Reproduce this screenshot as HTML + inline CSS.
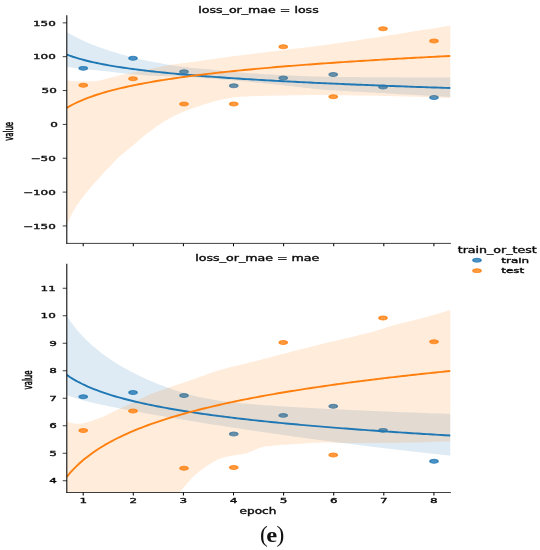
<!DOCTYPE html>
<html><head><meta charset="utf-8"><title>(e)</title>
<style>
html,body{margin:0;padding:0;background:#fff}
body{width:540px;height:550px;overflow:hidden;position:relative}
svg{position:absolute;left:0;top:0;display:block;filter:blur(0.45px)}
svg text{font-family:"DejaVu Sans","Liberation Sans",sans-serif;fill:#0a0a0a;stroke:#0a0a0a;stroke-width:0.34px}
svg text.cap{font-family:"Liberation Serif","DejaVu Serif",serif;fill:#111;stroke:none}
</style></head><body>
<svg width="540" height="550" viewBox="0 0 540 550">
<clipPath id="c1"><rect x="66.8" y="15.2" width="383.7" height="228.2"/></clipPath>
<g clip-path="url(#c1)">
<circle transform="translate(83.25 68.3) scale(2.05 1)" r="1.95" fill="#1f77b4" fill-opacity="0.8" stroke="#1f77b4" stroke-opacity="0.8" stroke-width="0.9"/>
<circle transform="translate(133 58.25) scale(2.05 1)" r="1.95" fill="#1f77b4" fill-opacity="0.8" stroke="#1f77b4" stroke-opacity="0.8" stroke-width="0.9"/>
<circle transform="translate(184 71.75) scale(2.05 1)" r="1.95" fill="#1f77b4" fill-opacity="0.8" stroke="#1f77b4" stroke-opacity="0.8" stroke-width="0.9"/>
<circle transform="translate(233.75 85.75) scale(2.05 1)" r="1.95" fill="#1f77b4" fill-opacity="0.8" stroke="#1f77b4" stroke-opacity="0.8" stroke-width="0.9"/>
<circle transform="translate(283.25 78) scale(2.05 1)" r="1.95" fill="#1f77b4" fill-opacity="0.8" stroke="#1f77b4" stroke-opacity="0.8" stroke-width="0.9"/>
<circle transform="translate(333.25 74.5) scale(2.05 1)" r="1.95" fill="#1f77b4" fill-opacity="0.8" stroke="#1f77b4" stroke-opacity="0.8" stroke-width="0.9"/>
<circle transform="translate(383 87) scale(2.05 1)" r="1.95" fill="#1f77b4" fill-opacity="0.8" stroke="#1f77b4" stroke-opacity="0.8" stroke-width="0.9"/>
<circle transform="translate(434 97.5) scale(2.05 1)" r="1.95" fill="#1f77b4" fill-opacity="0.8" stroke="#1f77b4" stroke-opacity="0.8" stroke-width="0.9"/>
<polygon points="66.8,32.12 69.8,33.83 72.8,35.48 75.8,37.05 78.8,38.54 81.8,39.98 84.8,41.38 87.8,42.72 90.8,43.99 93.8,45.2 96.8,46.33 99.8,47.41 102.8,48.44 105.8,49.44 108.8,50.41 111.8,51.38 114.8,52.32 117.8,53.23 120.8,54.13 123.8,54.99 126.8,55.83 129.8,56.65 132.8,57.45 135.8,58.23 138.8,58.97 141.8,59.67 144.8,60.31 147.8,60.9 150.8,61.44 153.8,61.98 156.8,62.52 159.8,63.08 162.8,63.65 165.8,64.21 168.8,64.76 171.8,65.26 174.8,65.73 177.8,66.16 180.8,66.58 183.8,66.97 186.8,67.34 189.8,67.68 192.8,67.98 195.8,68.25 198.8,68.51 201.8,68.76 204.8,69.02 207.8,69.31 210.8,69.62 213.8,69.96 216.8,70.3 219.8,70.65 222.8,70.98 225.8,71.3 228.8,71.59 231.8,71.85 234.8,72.1 237.8,72.33 240.8,72.55 243.8,72.76 246.8,72.96 249.8,73.16 252.8,73.36 255.8,73.55 258.8,73.75 261.8,73.94 264.8,74.14 267.8,74.32 270.8,74.51 273.8,74.68 276.8,74.84 279.8,74.99 282.8,75.13 285.8,75.28 288.8,75.42 291.8,75.56 294.8,75.69 297.8,75.82 300.8,75.95 303.8,76.07 306.8,76.18 309.8,76.28 312.8,76.38 315.8,76.46 318.8,76.54 321.8,76.6 324.8,76.65 327.8,76.7 330.8,76.75 333.8,76.8 336.8,76.84 339.8,76.88 342.8,76.92 345.8,76.96 348.8,77 351.8,77.03 354.8,77.07 357.8,77.1 360.8,77.13 363.8,77.16 366.8,77.18 369.8,77.21 372.8,77.23 375.8,77.25 378.8,77.27 381.8,77.28 384.8,77.3 387.8,77.31 390.8,77.33 393.8,77.34 396.8,77.36 399.8,77.37 402.8,77.38 405.8,77.39 408.8,77.41 411.8,77.42 414.8,77.43 417.8,77.44 420.8,77.45 423.8,77.46 426.8,77.47 429.8,77.47 432.8,77.48 435.8,77.49 438.8,77.49 441.8,77.5 444.8,77.5 450.5,77.5 450.5,97 444.8,96.69 441.8,96.52 438.8,96.36 435.8,96.19 432.8,96.03 429.8,95.86 426.8,95.69 423.8,95.52 420.8,95.35 417.8,95.18 414.8,95.01 411.8,94.84 408.8,94.67 405.8,94.5 402.8,94.33 399.8,94.16 396.8,93.98 393.8,93.81 390.8,93.64 387.8,93.46 384.8,93.29 381.8,93.12 378.8,92.95 375.8,92.78 372.8,92.61 369.8,92.45 366.8,92.29 363.8,92.13 360.8,91.96 357.8,91.8 354.8,91.63 351.8,91.46 348.8,91.29 345.8,91.12 342.8,90.93 339.8,90.75 336.8,90.56 333.8,90.36 330.8,90.15 327.8,89.94 324.8,89.72 321.8,89.48 318.8,89.23 315.8,88.96 312.8,88.67 309.8,88.36 306.8,88.04 303.8,87.7 300.8,87.36 297.8,87.01 294.8,86.66 291.8,86.31 288.8,85.96 285.8,85.63 282.8,85.3 279.8,84.98 276.8,84.67 273.8,84.35 270.8,84.03 267.8,83.72 264.8,83.4 261.8,83.08 258.8,82.77 255.8,82.45 252.8,82.14 249.8,81.84 246.8,81.54 243.8,81.25 240.8,80.96 237.8,80.68 234.8,80.41 231.8,80.15 228.8,79.9 225.8,79.66 222.8,79.43 219.8,79.21 216.8,79 213.8,78.79 210.8,78.58 207.8,78.38 204.8,78.17 201.8,77.96 198.8,77.75 195.8,77.55 192.8,77.36 189.8,77.19 186.8,77.03 183.8,76.87 180.8,76.72 177.8,76.58 174.8,76.46 171.8,76.35 168.8,76.25 165.8,76.18 162.8,76.1 159.8,76.03 156.8,75.95 153.8,75.85 150.8,75.74 147.8,75.57 144.8,75.34 141.8,75.06 138.8,74.77 135.8,74.47 132.8,74.2 129.8,73.94 126.8,73.67 123.8,73.39 120.8,73.09 117.8,72.74 114.8,72.33 111.8,71.92 108.8,71.56 105.8,71.24 102.8,70.94 99.8,70.64 96.8,70.35 93.8,70.05 90.8,69.75 87.8,69.47 84.8,69.18 81.8,68.88 78.8,68.55 75.8,68.18 72.8,67.75 69.8,67.26 66.8,66.74" fill="#1f77b4" fill-opacity="0.15"/>
<circle transform="translate(83.25 85.25) scale(2.05 1)" r="1.95" fill="#ff7f0e" fill-opacity="0.8" stroke="#ff7f0e" stroke-opacity="0.8" stroke-width="0.9"/>
<circle transform="translate(133 78.75) scale(2.05 1)" r="1.95" fill="#ff7f0e" fill-opacity="0.8" stroke="#ff7f0e" stroke-opacity="0.8" stroke-width="0.9"/>
<circle transform="translate(184 104) scale(2.05 1)" r="1.95" fill="#ff7f0e" fill-opacity="0.8" stroke="#ff7f0e" stroke-opacity="0.8" stroke-width="0.9"/>
<circle transform="translate(233.75 104) scale(2.05 1)" r="1.95" fill="#ff7f0e" fill-opacity="0.8" stroke="#ff7f0e" stroke-opacity="0.8" stroke-width="0.9"/>
<circle transform="translate(283.25 46.75) scale(2.05 1)" r="1.95" fill="#ff7f0e" fill-opacity="0.8" stroke="#ff7f0e" stroke-opacity="0.8" stroke-width="0.9"/>
<circle transform="translate(333.25 96.75) scale(2.05 1)" r="1.95" fill="#ff7f0e" fill-opacity="0.8" stroke="#ff7f0e" stroke-opacity="0.8" stroke-width="0.9"/>
<circle transform="translate(383 28.75) scale(2.05 1)" r="1.95" fill="#ff7f0e" fill-opacity="0.8" stroke="#ff7f0e" stroke-opacity="0.8" stroke-width="0.9"/>
<circle transform="translate(434 41) scale(2.05 1)" r="1.95" fill="#ff7f0e" fill-opacity="0.8" stroke="#ff7f0e" stroke-opacity="0.8" stroke-width="0.9"/>
<polygon points="66.8,80.52 69.8,80.85 72.8,81.14 75.8,81.29 78.8,81.3 81.8,81.3 84.8,81.3 87.8,81.3 90.8,81.3 93.8,81.29 96.8,81.04 99.8,80.48 102.8,79.74 105.8,78.9 108.8,78.09 111.8,77.36 114.8,76.55 117.8,75.74 120.8,75.02 123.8,74.38 126.8,73.78 129.8,73.2 132.8,72.61 135.8,71.99 138.8,71.34 141.8,70.69 144.8,70.03 147.8,69.38 150.8,68.75 153.8,68.11 156.8,67.49 159.8,66.88 162.8,66.29 165.8,65.75 168.8,65.23 171.8,64.73 174.8,64.26 177.8,63.81 180.8,63.4 183.8,63.02 186.8,62.68 189.8,62.34 192.8,62.01 195.8,61.65 198.8,61.27 201.8,60.82 204.8,60.31 207.8,59.83 210.8,59.38 213.8,58.94 216.8,58.51 219.8,58.09 222.8,57.67 225.8,57.26 228.8,56.86 231.8,56.46 234.8,56.07 237.8,55.68 240.8,55.3 243.8,54.92 246.8,54.54 249.8,54.17 252.8,53.8 255.8,53.44 258.8,53.07 261.8,52.71 264.8,52.35 267.8,51.98 270.8,51.62 273.8,51.26 276.8,50.89 279.8,50.52 282.8,50.16 285.8,49.8 288.8,49.44 291.8,49.09 294.8,48.73 297.8,48.38 300.8,48.03 303.8,47.67 306.8,47.31 309.8,46.95 312.8,46.58 315.8,46.2 318.8,45.82 321.8,45.43 324.8,45.02 327.8,44.61 330.8,44.2 333.8,43.78 336.8,43.35 339.8,42.91 342.8,42.47 345.8,42.03 348.8,41.58 351.8,41.13 354.8,40.67 357.8,40.21 360.8,39.75 363.8,39.29 366.8,38.83 369.8,38.36 372.8,37.89 375.8,37.43 378.8,36.96 381.8,36.5 384.8,36.03 387.8,35.57 390.8,35.1 393.8,34.63 396.8,34.16 399.8,33.69 402.8,33.22 405.8,32.75 408.8,32.27 411.8,31.79 414.8,31.32 417.8,30.84 420.8,30.35 423.8,29.87 426.8,29.39 429.8,28.9 432.8,28.41 435.8,27.92 438.8,27.43 441.8,26.94 444.8,26.44 450.5,25.5 450.5,98 444.8,97.79 441.8,97.67 438.8,97.57 435.8,97.46 432.8,97.35 429.8,97.25 426.8,97.15 423.8,97.05 420.8,96.95 417.8,96.86 414.8,96.76 411.8,96.67 408.8,96.59 405.8,96.5 402.8,96.42 399.8,96.34 396.8,96.27 393.8,96.19 390.8,96.12 387.8,96.06 384.8,96 381.8,95.93 378.8,95.87 375.8,95.81 372.8,95.74 369.8,95.68 366.8,95.62 363.8,95.55 360.8,95.49 357.8,95.43 354.8,95.38 351.8,95.32 348.8,95.27 345.8,95.22 342.8,95.18 339.8,95.14 336.8,95.1 333.8,95.07 330.8,95.04 327.8,95.02 324.8,95.01 321.8,95 318.8,95 315.8,95.01 312.8,95.02 309.8,95.05 306.8,95.08 303.8,95.11 300.8,95.15 297.8,95.19 294.8,95.24 291.8,95.29 288.8,95.34 285.8,95.4 282.8,95.45 279.8,95.5 276.8,95.56 273.8,95.61 270.8,95.68 267.8,95.74 264.8,95.81 261.8,95.89 258.8,95.98 255.8,96.07 252.8,96.18 249.8,96.29 246.8,96.42 243.8,96.56 240.8,96.76 237.8,97.02 234.8,97.33 231.8,97.69 228.8,98.16 225.8,98.73 222.8,99.37 219.8,100.06 216.8,100.78 213.8,101.54 210.8,102.38 207.8,103.29 204.8,104.24 201.8,105.22 198.8,106.19 195.8,107.17 192.8,108.17 189.8,109.21 186.8,110.31 183.8,111.49 180.8,112.77 177.8,114.15 174.8,115.62 171.8,117.17 168.8,118.81 165.8,120.52 162.8,122.36 159.8,124.32 156.8,126.37 153.8,128.51 150.8,130.71 147.8,132.97 144.8,135.34 141.8,137.8 138.8,140.32 135.8,142.89 132.8,145.48 129.8,148.06 126.8,150.62 123.8,153.07 120.8,155.5 117.8,158.09 114.8,161.09 111.8,164.61 108.8,167.63 105.8,170.58 102.8,173.83 99.8,177.2 96.8,180.48 93.8,183.73 90.8,187.13 87.8,190.67 84.8,194.38 81.8,198.29 78.8,202.52 75.8,207.11 72.8,212.27 69.8,218.25 66.8,225.02" fill="#ff7f0e" fill-opacity="0.15"/>
<polyline points="66.8,54.57 69.8,55.7 72.8,56.75 75.8,57.72 78.8,58.62 81.8,59.46 84.8,60.26 87.8,61.01 90.8,61.72 93.8,62.39 96.8,63.03 99.8,63.64 102.8,64.23 105.8,64.79 108.8,65.33 111.8,65.84 114.8,66.34 117.8,66.82 120.8,67.28 123.8,67.73 126.8,68.16 129.8,68.58 132.8,68.99 135.8,69.38 138.8,69.76 141.8,70.13 144.8,70.5 147.8,70.85 150.8,71.19 153.8,71.53 156.8,71.85 159.8,72.17 162.8,72.48 165.8,72.79 168.8,73.08 171.8,73.37 174.8,73.66 177.8,73.94 180.8,74.21 183.8,74.48 186.8,74.74 189.8,74.99 192.8,75.25 195.8,75.49 198.8,75.74 201.8,75.98 204.8,76.21 207.8,76.44 210.8,76.67 213.8,76.89 216.8,77.11 219.8,77.32 222.8,77.53 225.8,77.74 228.8,77.95 231.8,78.15 234.8,78.35 237.8,78.55 240.8,78.74 243.8,78.93 246.8,79.12 249.8,79.3 252.8,79.49 255.8,79.67 258.8,79.84 261.8,80.02 264.8,80.19 267.8,80.36 270.8,80.53 273.8,80.7 276.8,80.86 279.8,81.03 282.8,81.19 285.8,81.35 288.8,81.5 291.8,81.66 294.8,81.81 297.8,81.96 300.8,82.11 303.8,82.26 306.8,82.41 309.8,82.55 312.8,82.69 315.8,82.84 318.8,82.98 321.8,83.12 324.8,83.25 327.8,83.39 330.8,83.52 333.8,83.66 336.8,83.79 339.8,83.92 342.8,84.05 345.8,84.18 348.8,84.3 351.8,84.43 354.8,84.55 357.8,84.68 360.8,84.8 363.8,84.92 366.8,85.04 369.8,85.16 372.8,85.28 375.8,85.39 378.8,85.51 381.8,85.63 384.8,85.74 387.8,85.85 390.8,85.96 393.8,86.07 396.8,86.18 399.8,86.29 402.8,86.4 405.8,86.51 408.8,86.62 411.8,86.72 414.8,86.83 417.8,86.93 420.8,87.03 423.8,87.14 426.8,87.24 429.8,87.34 432.8,87.44 435.8,87.54 438.8,87.64 441.8,87.74 444.8,87.83 450.5,88.02" fill="none" stroke="#1f77b4" stroke-width="1.9"/>
<polyline points="66.8,107.88 69.8,106.12 72.8,104.5 75.8,103 78.8,101.6 81.8,100.28 84.8,99.05 87.8,97.89 90.8,96.79 93.8,95.74 96.8,94.75 99.8,93.8 102.8,92.89 105.8,92.02 108.8,91.18 111.8,90.38 114.8,89.61 117.8,88.87 120.8,88.15 123.8,87.46 126.8,86.78 129.8,86.13 132.8,85.5 135.8,84.89 138.8,84.3 141.8,83.72 144.8,83.16 147.8,82.61 150.8,82.08 153.8,81.56 156.8,81.05 159.8,80.56 162.8,80.08 165.8,79.6 168.8,79.14 171.8,78.69 174.8,78.25 177.8,77.82 180.8,77.4 183.8,76.98 186.8,76.57 189.8,76.18 192.8,75.78 195.8,75.4 198.8,75.02 201.8,74.65 204.8,74.29 207.8,73.93 210.8,73.58 213.8,73.24 216.8,72.9 219.8,72.56 222.8,72.23 225.8,71.91 228.8,71.59 231.8,71.28 234.8,70.97 237.8,70.66 240.8,70.36 243.8,70.07 246.8,69.78 249.8,69.49 252.8,69.2 255.8,68.92 258.8,68.65 261.8,68.38 264.8,68.11 267.8,67.84 270.8,67.58 273.8,67.32 276.8,67.07 279.8,66.81 282.8,66.56 285.8,66.32 288.8,66.07 291.8,65.83 294.8,65.59 297.8,65.36 300.8,65.13 303.8,64.9 306.8,64.67 309.8,64.45 312.8,64.22 315.8,64 318.8,63.78 321.8,63.57 324.8,63.36 327.8,63.14 330.8,62.94 333.8,62.73 336.8,62.52 339.8,62.32 342.8,62.12 345.8,61.92 348.8,61.72 351.8,61.53 354.8,61.34 357.8,61.14 360.8,60.96 363.8,60.77 366.8,60.58 369.8,60.4 372.8,60.21 375.8,60.03 378.8,59.85 381.8,59.67 384.8,59.5 387.8,59.32 390.8,59.15 393.8,58.98 396.8,58.8 399.8,58.64 402.8,58.47 405.8,58.3 408.8,58.14 411.8,57.97 414.8,57.81 417.8,57.65 420.8,57.49 423.8,57.33 426.8,57.17 429.8,57.01 432.8,56.86 435.8,56.7 438.8,56.55 441.8,56.4 444.8,56.25 450.5,55.96" fill="none" stroke="#ff7f0e" stroke-width="1.9"/>
</g>
<path d="M66.8 15.2V243.75" stroke="#000" stroke-width="1.05"/>
<path d="M66.3 243.4H450.9" stroke="#000" stroke-width="0.75"/>
<path d="M66.8 22.85h-4.1" stroke="#000" stroke-width="0.75"/>
<text transform="translate(55.8 25.55) scale(1.62 1)" text-anchor="end" font-size="7.4">150</text>
<path d="M66.8 56.7h-4.1" stroke="#000" stroke-width="0.75"/>
<text transform="translate(55.8 59.4) scale(1.62 1)" text-anchor="end" font-size="7.4">100</text>
<path d="M66.8 90.55h-4.1" stroke="#000" stroke-width="0.75"/>
<text transform="translate(56.8 93.25) scale(1.62 1)" text-anchor="end" font-size="7.4">50</text>
<path d="M66.8 124.4h-4.1" stroke="#000" stroke-width="0.75"/>
<text transform="translate(58 127.1) scale(1.62 1)" text-anchor="end" font-size="7.4">0</text>
<path d="M66.8 158.25h-4.1" stroke="#000" stroke-width="0.75"/>
<text transform="translate(55.8 160.95) scale(1.62 1)" text-anchor="end" font-size="7.4">−50</text>
<path d="M66.8 192.1h-4.1" stroke="#000" stroke-width="0.75"/>
<text transform="translate(55.8 194.8) scale(1.62 1)" text-anchor="end" font-size="7.4">−100</text>
<path d="M66.8 225.95h-4.1" stroke="#000" stroke-width="0.75"/>
<text transform="translate(55.8 228.65) scale(1.62 1)" text-anchor="end" font-size="7.4">−150</text>
<path d="M83.2 243.4v2.9" stroke="#000" stroke-width="1.05"/>
<path d="M133.3 243.4v2.9" stroke="#000" stroke-width="1.05"/>
<path d="M183.4 243.4v2.9" stroke="#000" stroke-width="1.05"/>
<path d="M233.5 243.4v2.9" stroke="#000" stroke-width="1.05"/>
<path d="M283.6 243.4v2.9" stroke="#000" stroke-width="1.05"/>
<path d="M333.7 243.4v2.9" stroke="#000" stroke-width="1.05"/>
<path d="M383.8 243.4v2.9" stroke="#000" stroke-width="1.05"/>
<path d="M433.9 243.4v2.9" stroke="#000" stroke-width="1.05"/>
<text transform="translate(258.5 12.6) scale(1.54 1)" text-anchor="middle" font-size="8.2">loss_or_mae = loss</text>
<text transform="translate(13 131.4) scale(1.74 1) rotate(-90)" text-anchor="middle" font-size="6.9">value</text>
<clipPath id="c2"><rect x="66.8" y="263.7" width="383.7" height="228.8"/></clipPath>
<g clip-path="url(#c2)">
<circle transform="translate(83.25 396.75) scale(2.05 1)" r="1.95" fill="#1f77b4" fill-opacity="0.8" stroke="#1f77b4" stroke-opacity="0.8" stroke-width="0.9"/>
<circle transform="translate(133 392.5) scale(2.05 1)" r="1.95" fill="#1f77b4" fill-opacity="0.8" stroke="#1f77b4" stroke-opacity="0.8" stroke-width="0.9"/>
<circle transform="translate(184 395.5) scale(2.05 1)" r="1.95" fill="#1f77b4" fill-opacity="0.8" stroke="#1f77b4" stroke-opacity="0.8" stroke-width="0.9"/>
<circle transform="translate(233.75 434) scale(2.05 1)" r="1.95" fill="#1f77b4" fill-opacity="0.8" stroke="#1f77b4" stroke-opacity="0.8" stroke-width="0.9"/>
<circle transform="translate(283.25 415.4) scale(2.05 1)" r="1.95" fill="#1f77b4" fill-opacity="0.8" stroke="#1f77b4" stroke-opacity="0.8" stroke-width="0.9"/>
<circle transform="translate(333.25 406.25) scale(2.05 1)" r="1.95" fill="#1f77b4" fill-opacity="0.8" stroke="#1f77b4" stroke-opacity="0.8" stroke-width="0.9"/>
<circle transform="translate(383 430.3) scale(2.05 1)" r="1.95" fill="#1f77b4" fill-opacity="0.8" stroke="#1f77b4" stroke-opacity="0.8" stroke-width="0.9"/>
<circle transform="translate(434 461.25) scale(2.05 1)" r="1.95" fill="#1f77b4" fill-opacity="0.8" stroke="#1f77b4" stroke-opacity="0.8" stroke-width="0.9"/>
<polygon points="66.8,316.04 69.8,320.5 72.8,324.61 75.8,328.42 78.8,331.97 81.8,335.3 84.8,338.42 87.8,341.37 90.8,344.15 93.8,346.8 96.8,349.31 99.8,351.71 102.8,354 105.8,356.19 108.8,358.3 111.8,360.32 114.8,362.26 117.8,364.13 120.8,365.93 123.8,367.67 126.8,369.35 129.8,370.97 132.8,372.55 135.8,374.07 138.8,375.54 141.8,376.97 144.8,378.36 147.8,379.71 150.8,381.01 153.8,382.28 156.8,383.51 159.8,384.7 162.8,385.86 165.8,386.98 168.8,388.07 171.8,389.12 174.8,390.14 177.8,391.12 180.8,392.07 183.8,392.97 186.8,393.84 189.8,394.67 192.8,395.46 195.8,396.21 198.8,396.92 201.8,397.58 204.8,398.2 207.8,398.78 210.8,399.32 213.8,399.82 216.8,400.29 219.8,400.73 222.8,401.14 225.8,401.52 228.8,401.88 231.8,402.22 234.8,402.55 237.8,402.85 240.8,403.15 243.8,403.43 246.8,403.7 249.8,403.96 252.8,404.21 255.8,404.45 258.8,404.68 261.8,404.91 264.8,405.13 267.8,405.35 270.8,405.56 273.8,405.76 276.8,405.97 279.8,406.16 282.8,406.35 285.8,406.54 288.8,406.73 291.8,406.91 294.8,407.09 297.8,407.26 300.8,407.44 303.8,407.61 306.8,407.77 309.8,407.94 312.8,408.1 315.8,408.26 318.8,408.42 321.8,408.57 324.8,408.73 327.8,408.88 330.8,409.03 333.8,409.17 336.8,409.32 339.8,409.46 342.8,409.6 345.8,409.74 348.8,409.88 351.8,410.02 354.8,410.16 357.8,410.29 360.8,410.42 363.8,410.55 366.8,410.68 369.8,410.81 372.8,410.94 375.8,411.07 378.8,411.19 381.8,411.31 384.8,411.44 387.8,411.56 390.8,411.68 393.8,411.8 396.8,411.91 399.8,412.03 402.8,412.15 405.8,412.26 408.8,412.37 411.8,412.49 414.8,412.6 417.8,412.71 420.8,412.82 423.8,412.93 426.8,413.04 429.8,413.14 432.8,413.25 435.8,413.35 438.8,413.46 441.8,413.56 444.8,413.66 450.5,413.86 450.5,455.63 444.8,455.02 441.8,454.7 438.8,454.37 435.8,454.05 432.8,453.72 429.8,453.39 426.8,453.06 423.8,452.73 420.8,452.39 417.8,452.06 414.8,451.72 411.8,451.38 408.8,451.04 405.8,450.69 402.8,450.35 399.8,450 396.8,449.65 393.8,449.3 390.8,448.95 387.8,448.6 384.8,448.24 381.8,447.88 378.8,447.52 375.8,447.16 372.8,446.8 369.8,446.43 366.8,446.06 363.8,445.7 360.8,445.32 357.8,444.95 354.8,444.58 351.8,444.2 348.8,443.82 345.8,443.44 342.8,443.06 339.8,442.67 336.8,442.28 333.8,441.89 330.8,441.5 327.8,441.11 324.8,440.72 321.8,440.32 318.8,439.92 315.8,439.52 312.8,439.11 309.8,438.71 306.8,438.3 303.8,437.89 300.8,437.48 297.8,437.07 294.8,436.65 291.8,436.23 288.8,435.81 285.8,435.39 282.8,434.97 279.8,434.54 276.8,434.11 273.8,433.68 270.8,433.25 267.8,432.81 264.8,432.38 261.8,431.94 258.8,431.5 255.8,431.06 252.8,430.61 249.8,430.16 246.8,429.72 243.8,429.26 240.8,428.81 237.8,428.36 234.8,427.9 231.8,427.44 228.8,426.98 225.8,426.52 222.8,426.05 219.8,425.58 216.8,425.11 213.8,424.64 210.8,424.17 207.8,423.69 204.8,423.22 201.8,422.74 198.8,422.25 195.8,421.77 192.8,421.28 189.8,420.8 186.8,420.3 183.8,419.81 180.8,419.32 177.8,418.82 174.8,418.32 171.8,417.81 168.8,417.31 165.8,416.8 162.8,416.29 159.8,415.77 156.8,415.25 153.8,414.73 150.8,414.2 147.8,413.67 144.8,413.14 141.8,412.6 138.8,412.06 135.8,411.51 132.8,410.95 129.8,410.39 126.8,409.82 123.8,409.25 120.8,408.67 117.8,408.08 114.8,407.48 111.8,406.87 108.8,406.25 105.8,405.61 102.8,404.97 99.8,404.31 96.8,403.63 93.8,402.94 90.8,402.22 87.8,401.48 84.8,400.72 81.8,399.92 78.8,399.1 75.8,398.23 72.8,397.33 69.8,396.37 66.8,395.35" fill="#1f77b4" fill-opacity="0.15"/>
<circle transform="translate(83.25 430.5) scale(2.05 1)" r="1.95" fill="#ff7f0e" fill-opacity="0.8" stroke="#ff7f0e" stroke-opacity="0.8" stroke-width="0.9"/>
<circle transform="translate(133 411) scale(2.05 1)" r="1.95" fill="#ff7f0e" fill-opacity="0.8" stroke="#ff7f0e" stroke-opacity="0.8" stroke-width="0.9"/>
<circle transform="translate(184 468.25) scale(2.05 1)" r="1.95" fill="#ff7f0e" fill-opacity="0.8" stroke="#ff7f0e" stroke-opacity="0.8" stroke-width="0.9"/>
<circle transform="translate(233.75 467.5) scale(2.05 1)" r="1.95" fill="#ff7f0e" fill-opacity="0.8" stroke="#ff7f0e" stroke-opacity="0.8" stroke-width="0.9"/>
<circle transform="translate(283.25 342.5) scale(2.05 1)" r="1.95" fill="#ff7f0e" fill-opacity="0.8" stroke="#ff7f0e" stroke-opacity="0.8" stroke-width="0.9"/>
<circle transform="translate(333.25 455) scale(2.05 1)" r="1.95" fill="#ff7f0e" fill-opacity="0.8" stroke="#ff7f0e" stroke-opacity="0.8" stroke-width="0.9"/>
<circle transform="translate(383 318) scale(2.05 1)" r="1.95" fill="#ff7f0e" fill-opacity="0.8" stroke="#ff7f0e" stroke-opacity="0.8" stroke-width="0.9"/>
<circle transform="translate(434 341.75) scale(2.05 1)" r="1.95" fill="#ff7f0e" fill-opacity="0.8" stroke="#ff7f0e" stroke-opacity="0.8" stroke-width="0.9"/>
<polygon points="66.8,421.33 69.8,422.39 72.8,423.2 75.8,423.67 78.8,423.72 81.8,423.43 84.8,422.87 87.8,422.1 90.8,421.19 93.8,420.17 96.8,419.11 99.8,418.07 102.8,416.93 105.8,415.55 108.8,414.03 111.8,412.46 114.8,410.92 117.8,409.49 120.8,408.13 123.8,406.79 126.8,405.45 129.8,404.11 132.8,402.73 135.8,401.3 138.8,399.79 141.8,398.27 144.8,396.77 147.8,395.36 150.8,394.07 153.8,392.89 156.8,391.77 159.8,390.7 162.8,389.65 165.8,388.61 168.8,387.57 171.8,386.55 174.8,385.55 177.8,384.56 180.8,383.57 183.8,382.58 186.8,381.58 189.8,380.57 192.8,379.52 195.8,378.45 198.8,377.35 201.8,376.24 204.8,375.14 207.8,374.05 210.8,372.98 213.8,371.95 216.8,370.97 219.8,370.06 222.8,369.2 225.8,368.39 228.8,367.61 231.8,366.86 234.8,366.13 237.8,365.42 240.8,364.71 243.8,364 246.8,363.29 249.8,362.55 252.8,361.8 255.8,361.03 258.8,360.26 261.8,359.48 264.8,358.7 267.8,357.91 270.8,357.13 273.8,356.34 276.8,355.55 279.8,354.76 282.8,353.96 285.8,353.17 288.8,352.38 291.8,351.59 294.8,350.81 297.8,350.02 300.8,349.24 303.8,348.47 306.8,347.7 309.8,346.93 312.8,346.17 315.8,345.42 318.8,344.68 321.8,343.95 324.8,343.24 327.8,342.53 330.8,341.84 333.8,341.15 336.8,340.47 339.8,339.79 342.8,339.11 345.8,338.42 348.8,337.73 351.8,337.03 354.8,336.33 357.8,335.61 360.8,334.87 363.8,334.12 366.8,333.35 369.8,332.55 372.8,331.72 375.8,330.84 378.8,329.92 381.8,328.98 384.8,328.04 387.8,327.11 390.8,326.2 393.8,325.33 396.8,324.52 399.8,323.74 402.8,322.99 405.8,322.26 408.8,321.54 411.8,320.82 414.8,320.08 417.8,319.33 420.8,318.54 423.8,317.73 426.8,316.91 429.8,316.07 432.8,315.23 435.8,314.37 438.8,313.5 441.8,312.62 444.8,311.73 450.5,310 450.5,441.25 444.8,441.5 441.8,441.62 438.8,441.75 435.8,441.87 432.8,441.98 429.8,442.09 426.8,442.2 423.8,442.3 420.8,442.39 417.8,442.48 414.8,442.57 411.8,442.65 408.8,442.72 405.8,442.78 402.8,442.84 399.8,442.89 396.8,442.93 393.8,442.96 390.8,442.98 387.8,443 384.8,443 381.8,443 378.8,443 375.8,443 372.8,443 369.8,443 366.8,443 363.8,443 360.8,443 357.8,443 354.8,443 351.8,443 348.8,443 345.8,442.96 342.8,442.9 339.8,442.82 336.8,442.73 333.8,442.64 330.8,442.57 327.8,442.52 324.8,442.5 321.8,442.54 318.8,442.63 315.8,442.76 312.8,442.92 309.8,443.11 306.8,443.31 303.8,443.51 300.8,443.7 297.8,443.88 294.8,444.06 291.8,444.24 288.8,444.44 285.8,444.64 282.8,444.86 279.8,445.09 276.8,445.34 273.8,445.61 270.8,445.89 267.8,446.21 264.8,446.62 261.8,447.15 258.8,448.11 255.8,449.42 252.8,450.83 249.8,452.07 246.8,453.23 243.8,453.99 240.8,454.43 237.8,454.78 234.8,455.14 231.8,455.63 228.8,456.25 225.8,456.98 222.8,457.83 219.8,458.82 216.8,460.09 213.8,461.66 210.8,463.43 207.8,465.31 204.8,467.28 201.8,469.44 198.8,471.78 195.8,474.3 192.8,477.12 189.8,480.42 186.8,483.95 183.8,487.45 180.8,490.64 177.8,493.27 174.8,495.54 171.8,497.61 168.8,499.53 165.8,501.39 162.8,503.23 159.8,505.13 156.8,507.07 153.8,509 150.8,510.93 147.8,512.84 144.8,514.75 141.8,516.64 138.8,518.52 135.8,520.39 132.8,522.25 129.8,524.09 126.8,525.92 123.8,527.73 120.8,529.52 117.8,531.3 114.8,533.07 111.8,534.83 108.8,536.58 105.8,538.32 102.8,540.05 99.8,541.77 96.8,543.47 93.8,545.17 90.8,546.85 87.8,548.53 84.8,550.19 81.8,551.84 78.8,553.48 75.8,555.1 72.8,556.71 69.8,558.31 66.8,559.89" fill="#ff7f0e" fill-opacity="0.15"/>
<polyline points="66.8,374.88 69.8,376.94 72.8,378.83 75.8,380.59 78.8,382.22 81.8,383.76 84.8,385.2 87.8,386.56 90.8,387.84 93.8,389.07 96.8,390.23 99.8,391.34 102.8,392.4 105.8,393.41 108.8,394.39 111.8,395.32 114.8,396.23 117.8,397.09 120.8,397.93 123.8,398.74 126.8,399.53 129.8,400.29 132.8,401.02 135.8,401.74 138.8,402.43 141.8,403.11 144.8,403.76 147.8,404.4 150.8,405.02 153.8,405.63 156.8,406.22 159.8,406.8 162.8,407.36 165.8,407.92 168.8,408.45 171.8,408.98 174.8,409.5 177.8,410 180.8,410.5 183.8,410.98 186.8,411.46 189.8,411.92 192.8,412.38 195.8,412.83 198.8,413.27 201.8,413.7 204.8,414.12 207.8,414.54 210.8,414.95 213.8,415.36 216.8,415.75 219.8,416.14 222.8,416.53 225.8,416.91 228.8,417.28 231.8,417.64 234.8,418.01 237.8,418.36 240.8,418.71 243.8,419.06 246.8,419.4 249.8,419.73 252.8,420.07 255.8,420.39 258.8,420.71 261.8,421.03 264.8,421.35 267.8,421.66 270.8,421.96 273.8,422.27 276.8,422.56 279.8,422.86 282.8,423.15 285.8,423.44 288.8,423.72 291.8,424 294.8,424.28 297.8,424.56 300.8,424.83 303.8,425.1 306.8,425.36 309.8,425.62 312.8,425.88 315.8,426.14 318.8,426.4 321.8,426.65 324.8,426.9 327.8,427.14 330.8,427.39 333.8,427.63 336.8,427.87 339.8,428.11 342.8,428.34 345.8,428.57 348.8,428.8 351.8,429.03 354.8,429.26 357.8,429.48 360.8,429.7 363.8,429.92 366.8,430.14 369.8,430.35 372.8,430.57 375.8,430.78 378.8,430.99 381.8,431.2 384.8,431.41 387.8,431.61 390.8,431.81 393.8,432.01 396.8,432.21 399.8,432.41 402.8,432.61 405.8,432.8 408.8,433 411.8,433.19 414.8,433.38 417.8,433.57 420.8,433.75 423.8,433.94 426.8,434.12 429.8,434.31 432.8,434.49 435.8,434.67 438.8,434.85 441.8,435.02 444.8,435.2 450.5,435.53" fill="none" stroke="#1f77b4" stroke-width="1.9"/>
<polyline points="66.8,476.78 69.8,473.19 72.8,469.89 75.8,466.82 78.8,463.97 81.8,461.29 84.8,458.78 87.8,456.41 90.8,454.16 93.8,452.03 96.8,450 99.8,448.06 102.8,446.21 105.8,444.44 108.8,442.74 111.8,441.1 114.8,439.53 117.8,438.01 120.8,436.55 123.8,435.14 126.8,433.77 129.8,432.44 132.8,431.16 135.8,429.91 138.8,428.7 141.8,427.52 144.8,426.38 147.8,425.26 150.8,424.18 153.8,423.12 156.8,422.08 159.8,421.08 162.8,420.09 165.8,419.13 168.8,418.19 171.8,417.27 174.8,416.37 177.8,415.49 180.8,414.63 183.8,413.78 186.8,412.95 189.8,412.14 192.8,411.34 195.8,410.56 198.8,409.79 201.8,409.03 204.8,408.29 207.8,407.56 210.8,406.85 213.8,406.14 216.8,405.45 219.8,404.77 222.8,404.1 225.8,403.44 228.8,402.79 231.8,402.15 234.8,401.52 237.8,400.9 240.8,400.29 243.8,399.68 246.8,399.09 249.8,398.5 252.8,397.93 255.8,397.35 258.8,396.79 261.8,396.24 264.8,395.69 267.8,395.15 270.8,394.61 273.8,394.09 276.8,393.56 279.8,393.05 282.8,392.54 285.8,392.04 288.8,391.54 291.8,391.05 294.8,390.57 297.8,390.09 300.8,389.61 303.8,389.15 306.8,388.68 309.8,388.22 312.8,387.77 315.8,387.32 318.8,386.88 321.8,386.44 324.8,386 327.8,385.57 330.8,385.15 333.8,384.72 336.8,384.31 339.8,383.89 342.8,383.48 345.8,383.08 348.8,382.68 351.8,382.28 354.8,381.89 357.8,381.49 360.8,381.11 363.8,380.72 366.8,380.34 369.8,379.97 372.8,379.6 375.8,379.23 378.8,378.86 381.8,378.5 384.8,378.14 387.8,377.78 390.8,377.42 393.8,377.07 396.8,376.72 399.8,376.38 402.8,376.04 405.8,375.7 408.8,375.36 411.8,375.02 414.8,374.69 417.8,374.36 420.8,374.04 423.8,373.71 426.8,373.39 429.8,373.07 432.8,372.75 435.8,372.44 438.8,372.13 441.8,371.82 444.8,371.51 450.5,370.93" fill="none" stroke="#ff7f0e" stroke-width="1.9"/>
</g>
<path d="M66.8 263.7V492.85" stroke="#000" stroke-width="1.05"/>
<path d="M66.3 492.5H450.9" stroke="#000" stroke-width="0.75"/>
<path d="M66.8 288.25h-4.1" stroke="#000" stroke-width="0.75"/>
<text transform="translate(55.8 290.95) scale(1.62 1)" text-anchor="end" font-size="7.4">11</text>
<path d="M66.8 315.75h-4.1" stroke="#000" stroke-width="0.75"/>
<text transform="translate(55.8 318.45) scale(1.62 1)" text-anchor="end" font-size="7.4">10</text>
<path d="M66.8 343.25h-4.1" stroke="#000" stroke-width="0.75"/>
<text transform="translate(57 345.95) scale(1.62 1)" text-anchor="end" font-size="7.4">9</text>
<path d="M66.8 370.75h-4.1" stroke="#000" stroke-width="0.75"/>
<text transform="translate(57 373.45) scale(1.62 1)" text-anchor="end" font-size="7.4">8</text>
<path d="M66.8 398.25h-4.1" stroke="#000" stroke-width="0.75"/>
<text transform="translate(57 400.95) scale(1.62 1)" text-anchor="end" font-size="7.4">7</text>
<path d="M66.8 425.75h-4.1" stroke="#000" stroke-width="0.75"/>
<text transform="translate(57 428.45) scale(1.62 1)" text-anchor="end" font-size="7.4">6</text>
<path d="M66.8 453.25h-4.1" stroke="#000" stroke-width="0.75"/>
<text transform="translate(57 455.95) scale(1.62 1)" text-anchor="end" font-size="7.4">5</text>
<path d="M66.8 480.75h-4.1" stroke="#000" stroke-width="0.75"/>
<text transform="translate(57 483.45) scale(1.62 1)" text-anchor="end" font-size="7.4">4</text>
<path d="M83.2 492.5v2.9" stroke="#000" stroke-width="1.05"/>
<text transform="translate(83.2 503.4) scale(1.62 1)" text-anchor="middle" font-size="7.4">1</text>
<path d="M133.3 492.5v2.9" stroke="#000" stroke-width="1.05"/>
<text transform="translate(133.3 503.4) scale(1.62 1)" text-anchor="middle" font-size="7.4">2</text>
<path d="M183.4 492.5v2.9" stroke="#000" stroke-width="1.05"/>
<text transform="translate(183.4 503.4) scale(1.62 1)" text-anchor="middle" font-size="7.4">3</text>
<path d="M233.5 492.5v2.9" stroke="#000" stroke-width="1.05"/>
<text transform="translate(233.5 503.4) scale(1.62 1)" text-anchor="middle" font-size="7.4">4</text>
<path d="M283.6 492.5v2.9" stroke="#000" stroke-width="1.05"/>
<text transform="translate(283.6 503.4) scale(1.62 1)" text-anchor="middle" font-size="7.4">5</text>
<path d="M333.7 492.5v2.9" stroke="#000" stroke-width="1.05"/>
<text transform="translate(333.7 503.4) scale(1.62 1)" text-anchor="middle" font-size="7.4">6</text>
<path d="M383.8 492.5v2.9" stroke="#000" stroke-width="1.05"/>
<text transform="translate(383.8 503.4) scale(1.62 1)" text-anchor="middle" font-size="7.4">7</text>
<path d="M433.9 492.5v2.9" stroke="#000" stroke-width="1.05"/>
<text transform="translate(433.9 503.4) scale(1.62 1)" text-anchor="middle" font-size="7.4">8</text>
<text transform="translate(257.3 261.3) scale(1.54 1)" text-anchor="middle" font-size="8.2">loss_or_mae = mae</text>
<text transform="translate(32.4 380) scale(1.74 1) rotate(-90)" text-anchor="middle" font-size="6.9">value</text>
<text transform="translate(258 513.8) scale(1.53 1)" text-anchor="middle" font-size="7.9">epoch</text>
<text transform="translate(497.2 252.5) scale(1.54 1)" text-anchor="middle" font-size="8.2">train_or_test</text>
<circle transform="translate(477 260.2) scale(2.05 1)" r="1.95" fill="#1f77b4" fill-opacity="0.8" stroke="#1f77b4" stroke-opacity="0.8" stroke-width="0.9"/>
<circle transform="translate(477 270.7) scale(2.05 1)" r="1.95" fill="#ff7f0e" fill-opacity="0.8" stroke="#ff7f0e" stroke-opacity="0.8" stroke-width="0.9"/>
<text transform="translate(501.3 262.7) scale(1.62 1)" text-anchor="start" font-size="7.4">train</text>
<text transform="translate(501.3 273.2) scale(1.62 1)" text-anchor="start" font-size="7.4">test</text>
<text class="cap" x="259.9" y="541.9" font-size="23.5">(</text>
<text class="cap" transform="translate(266.3 541.7) scale(1.13 1)" font-size="21.8" font-weight="bold">e</text>
<text class="cap" x="276.6" y="541.9" font-size="23.5">)</text>
</svg>
</body></html>
